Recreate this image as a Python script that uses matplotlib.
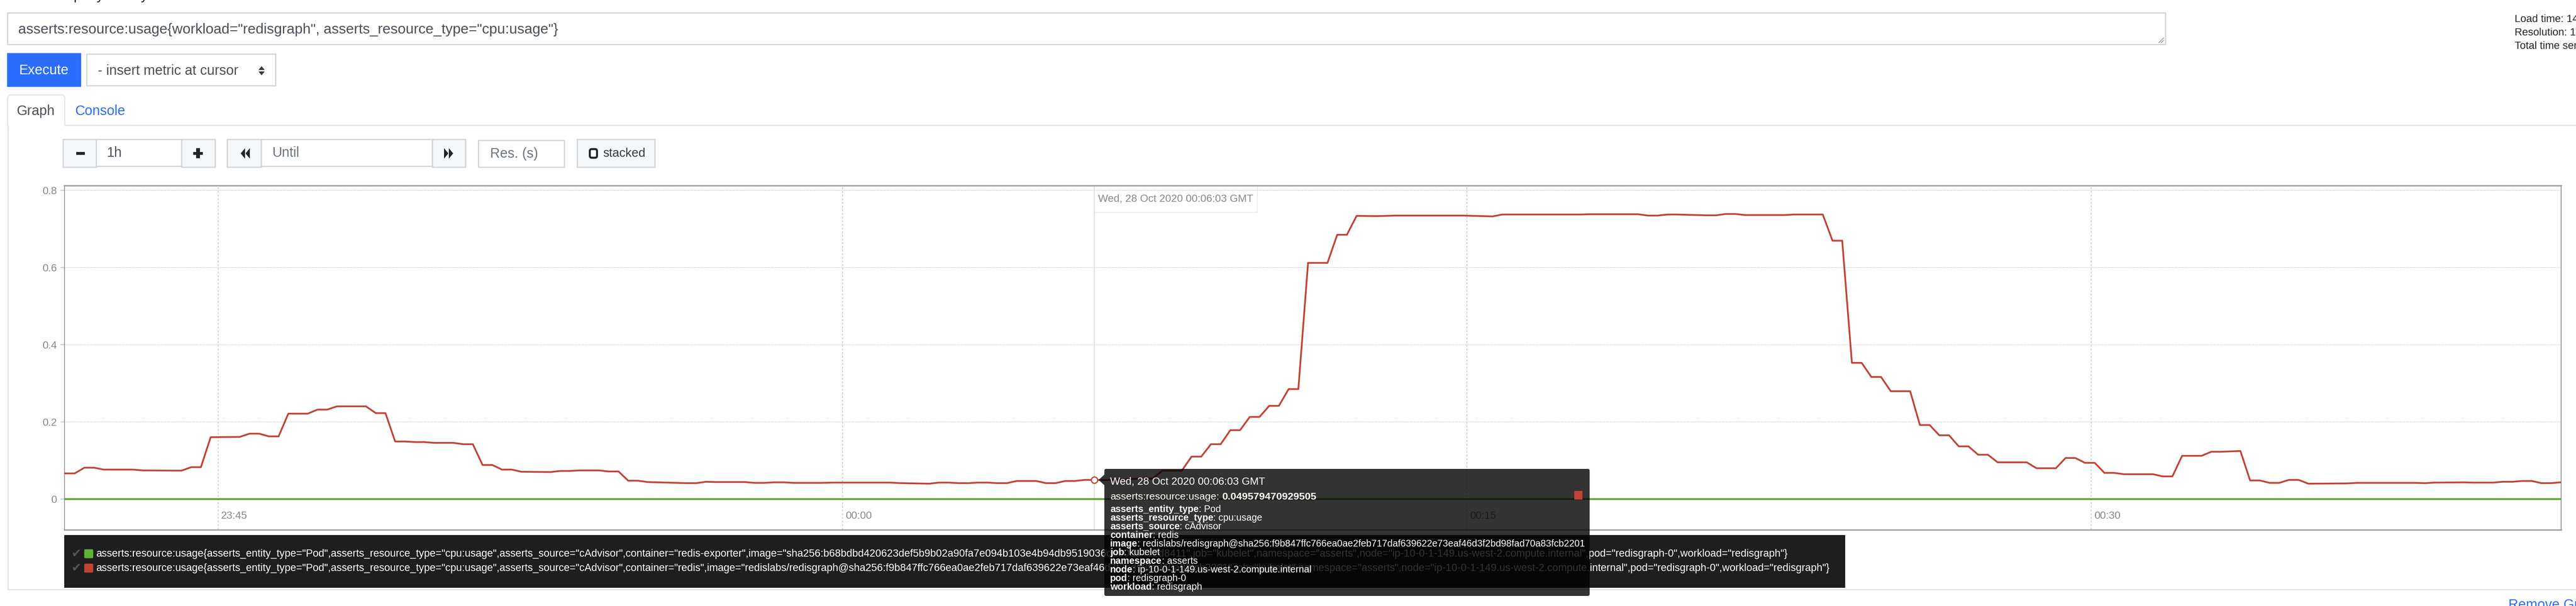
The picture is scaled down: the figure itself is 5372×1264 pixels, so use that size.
#!/usr/bin/env python
"""Prometheus graph page: cpu usage of the redisgraph workload, with hover tooltip."""
import matplotlib
matplotlib.use("Agg")
import matplotlib.pyplot as plt
from matplotlib.patches import Rectangle, FancyBboxPatch, Polygon
from matplotlib.transforms import ScaledTranslation

plt.rcParams["font.family"] = ["Liberation Sans", "DejaVu Sans"]

W, H = 5372, 1264
STEP_MIN = 14 / 60          # 14s resolution
START_MIN = -18.683         # 23:41:19, minutes relative to 00:00

# sample number (14s apart) and value at each corner of the red series
red_sample = [0, 1, 2, 3, 4, 7, 8, 12, 13, 14, 15, 18, 19, 20, 21, 22, 23, 25, 26, 27,
              28, 31, 32, 33, 34, 35, 36, 37, 38, 40, 41, 42, 43, 44, 45, 46, 47, 50, 51, 52,
              53, 55, 56, 57, 58, 59, 60, 64, 65, 66, 67, 70, 71, 72, 73, 74, 75, 78, 79, 85,
              86, 89, 90, 91, 92, 93, 94, 95, 96, 97, 98, 100, 101, 102, 103, 104, 105, 106, 107, 111,
              112, 113, 115, 116, 117, 118, 119, 120, 121, 122, 123, 124, 125, 126, 127, 128, 130, 131, 132, 133,
              135, 137, 144, 147, 148, 156, 157, 162, 163, 164, 165, 166, 169, 170, 171, 172, 173, 177, 178, 181,
              182, 183, 184, 185, 186, 187, 188, 190, 191, 192, 193, 194, 195, 196, 197, 198, 199, 202, 203, 205,
              206, 207, 208, 209, 210, 211, 212, 215, 216, 217, 218, 220, 221, 222, 224, 225, 226, 227, 228, 229,
              230, 231, 235, 236, 242, 243, 244, 247, 248, 250, 251, 252, 253, 254, 255, 256, 257]
red_value = [0.0665, 0.0665, 0.0813, 0.0813, 0.0764, 0.0764, 0.0743, 0.0736, 0.0827, 0.0827,
             0.1604, 0.1611, 0.1695, 0.1695, 0.1625, 0.1625, 0.2214, 0.2214, 0.2319, 0.2319,
             0.2403, 0.2403, 0.2228, 0.2228, 0.1492, 0.1492, 0.1478, 0.1478, 0.1457, 0.1457,
             0.1422, 0.1422, 0.0883, 0.0883, 0.0764, 0.0764, 0.0708, 0.0700, 0.0729, 0.0729,
             0.0743, 0.0743, 0.0715, 0.0715, 0.0476, 0.0476, 0.0441, 0.0413, 0.0413, 0.0448,
             0.0441, 0.0441, 0.0420, 0.0420, 0.0434, 0.0434, 0.0420, 0.0420, 0.0427, 0.0427,
             0.0413, 0.0399, 0.0427, 0.0427, 0.0413, 0.0413, 0.0427, 0.0427, 0.0413, 0.0413,
             0.0469, 0.0469, 0.0413, 0.0413, 0.0469, 0.0469, 0.0497, 0.0496, 0.0490, 0.0532,
             0.0532, 0.0736, 0.0736, 0.1100, 0.1100, 0.1422, 0.1422, 0.1786, 0.1786, 0.2130,
             0.2130, 0.2417, 0.2417, 0.2851, 0.2851, 0.6122, 0.6122, 0.6851, 0.6851, 0.7341,
             0.7334, 0.7348, 0.7348, 0.7327, 0.7376, 0.7376, 0.7383, 0.7383, 0.7348, 0.7348,
             0.7376, 0.7376, 0.7355, 0.7355, 0.7390, 0.7390, 0.7362, 0.7362, 0.7376, 0.7376,
             0.6697, 0.6697, 0.3531, 0.3531, 0.3166, 0.3166, 0.2795, 0.2795, 0.1919, 0.1919,
             0.1653, 0.1653, 0.1366, 0.1366, 0.1149, 0.1149, 0.0953, 0.0953, 0.0799, 0.0799,
             0.1065, 0.1065, 0.0939, 0.0939, 0.0679, 0.0679, 0.0644, 0.0644, 0.0588, 0.0588,
             0.1121, 0.1121, 0.1226, 0.1226, 0.1247, 0.0483, 0.0483, 0.0420, 0.0420, 0.0497,
             0.0497, 0.0399, 0.0406, 0.0420, 0.0420, 0.0413, 0.0427, 0.0434, 0.0427, 0.0427,
             0.0448, 0.0448, 0.0469, 0.0469, 0.0413, 0.0413, 0.0434]

green_sample = [0, 257]
green_value = [0.0005, 0.0005]

y_ticks = [0, 0.2, 0.4, 0.6, 0.8]
y_labels = ["0", "0.2", "0.4", "0.6", "0.8"]
x_ticks = [-15, 0, 15, 30]
x_labels = ["23:45", "00:00", "00:15", "00:30"]

hover_min = 6.05
hover_value = 0.049579470929505

query = 'asserts:resource:usage{workload="redisgraph", asserts_resource_type="cpu:usage"}'
legend_rows = [
    'asserts:resource:usage{asserts_entity_type="Pod",asserts_resource_type="cpu:usage",'
    'asserts_source="cAdvisor",container="redis-exporter",'
    'image="sha256:b68bdbd420623def5b9b02a90fa7e094b103e4b94db9519036da5006412d8411",'
    'job="kubelet",namespace="asserts",node="ip-10-0-1-149.us-west-2.compute.internal",'
    'pod="redisgraph-0",workload="redisgraph"}',
    'asserts:resource:usage{asserts_entity_type="Pod",asserts_resource_type="cpu:usage",'
    'asserts_source="cAdvisor",container="redis",'
    'image="redislabs/redisgraph@sha256:f9b847ffc766ea0ae2feb717daf639622e73eaf46d3f2bd98fad70a83fcb2201",'
    'job="kubelet",namespace="asserts",node="ip-10-0-1-149.us-west-2.compute.internal",'
    'pod="redisgraph-0",workload="redisgraph"}',
]
tip_labels = ["asserts_entity_type", "asserts_resource_type", "asserts_source", "container",
              "image", "job", "namespace", "node", "pod", "workload"]
tip_values = ["Pod", "cpu:usage", "cAdvisor", "redis",
              "redislabs/redisgraph@sha256:f9b847ffc766ea0ae2feb717daf639622e73eaf46d3f2bd98fad70a83fcb2201",
              "kubelet", "asserts", "ip-10-0-1-149.us-west-2.compute.internal",
              "redisgraph-0", "redisgraph"]

BLUE = "#2a6dff"
RED = "#c24333"
GREEN = "#5aa02c"
BORDER = "#ced4da"
BTN = "#f6f7f9"

fig = plt.figure(figsize=(W / 100, H / 100), dpi=100, facecolor="white")


def px_axes(zorder):
    a = fig.add_axes([0, 0, 1, 1], zorder=zorder)
    a.set_xlim(0, W)
    a.set_ylim(H, 0)
    a.axis("off")
    a.patch.set_alpha(0)
    return a


page = px_axes(0)
top = px_axes(2)


def box(ax, x0, y0, x1, y1, fc="white", ec=BORDER, lw=2.5, **kw):
    ax.add_patch(Rectangle((x0, y0), x1 - x0, y1 - y0, fc=fc, ec=ec, lw=lw * 0.72, **kw))


def txt(ax, x, y, s, size=20.6, color="#212529", ha="left", va="center", **kw):
    return ax.text(x, y, s, fontsize=size, color=color, ha=ha, va=va, **kw)


# page chrome
txt(page, 47, -1, "Enable query history", va="baseline")
box(page, 16, 27, 4516, 93)
txt(page, 38, 62, query, color="#495057", size=21.5)
page.plot([4502, 4512], [89, 79], color="#888", lw=1)
page.plot([4507, 4512], [89, 84], color="#888", lw=1)
box(page, 16, 112, 168, 180, fc=BLUE, ec=BLUE)
txt(page, 92, 147, "Execute", color="white", ha="center")
box(page, 181, 113, 575, 179)
txt(page, 204, 148, "- insert metric at cursor", color="#495057")
page.add_patch(Polygon([(539, 146), (552, 146), (545.5, 138)], fc="#343a40"))
page.add_patch(Polygon([(539, 149), (552, 149), (545.5, 157)], fc="#343a40"))

for n, y in (("Load time: 14", 41), ("Resolution: 14", 69), ("Total time ser", 97)):
    txt(page, 5244, y, n, size=15.8)

# tabs and panel
page.plot([16, 16, 20, 131, 135, 135], [262, 202, 198, 198, 202, 261], color="#dee2e6", lw=1.5)
page.plot([135, W], [261, 261], color="#dee2e6", lw=1.8)
page.plot([17, 17], [262, 1230], color="#dddddd", lw=1.5)
page.plot([17, W], [1230, 1230], color="#dddddd", lw=1.5)
txt(page, 34, 232, "Graph", color="#495057")
txt(page, 156, 232, "Console", color=BLUE)
txt(page, 5231, 1248, "Remove Gr", color=BLUE, va="top")

# range controls
box(page, 132, 291, 201, 349, fc=BTN)
box(page, 201, 291, 379, 347)
box(page, 379, 291, 449, 349, fc=BTN)
page.add_patch(Rectangle((159, 317), 18, 6, fc="#212529"))
txt(page, 223, 319, "1h", color="#495057")
page.add_patch(Rectangle((403, 317), 20, 6, fc="#212529"))
page.add_patch(Rectangle((409, 309), 8, 21, fc="#212529"))
box(page, 474, 291, 545, 349, fc=BTN)
box(page, 545, 291, 902, 347)
box(page, 902, 291, 971, 349, fc=BTN)
txt(page, 568, 319, "Until", color="#6c757d")
for dx in (0, 10):
    page.add_patch(Polygon([(502 + dx, 320), (511 + dx, 309), (511 + dx, 331)], fc="#212529"))
    page.add_patch(Polygon([(926 + dx, 309), (935 + dx, 320), (926 + dx, 331)], fc="#212529"))
box(page, 998, 293, 1177, 349)
txt(page, 1022, 321, "Res. (s)", color="#6c757d")
box(page, 1204, 291, 1366, 349, fc=BTN)
page.add_patch(FancyBboxPatch((1230, 311), 15, 18, boxstyle="round,pad=0,rounding_size=4",
                              fc="white", ec="#212529", lw=3))
txt(page, 1257, 320, "stacked", color="#343a40", size=18.5)

# legend block
box(page, 134, 1116, 3848, 1226, fc="#1e1e1e", ec="#1e1e1e", lw=0)
for s, c, y in zip(legend_rows, ("#5fb233", RED), (1155, 1185)):
    txt(page, 159, y, "\u2714", color="#555555", ha="center", size=18, family="DejaVu Sans")
    page.add_patch(FancyBboxPatch((176, y - 9), 18, 18, boxstyle="round,pad=0,rounding_size=2",
                                  fc=c, ec=c, lw=0.5))
    txt(page, 200, y, s, color="white", size=15.55)

# the graph itself
L, R, T, B = 134, 5341, 387, 1105
ax = fig.add_axes([L / W, 1 - B / H, (R - L) / W, (B - T) / H], zorder=1)
ax.patch.set_alpha(0)
ax.set_xlim(-18.70, 41.29)
ax.set_ylim(-0.0796, 0.8127)
for side in ("top", "bottom"):
    ax.spines[side].set_color("#999999")
    ax.spines[side].set_linewidth(1.9)
ax.spines["right"].set_color("#999999")
ax.spines["right"].set_linewidth(1.4)
ax.spines["left"].set_color("#777777")
ax.spines["left"].set_linewidth(1.0)

ax.set_yticks(y_ticks)
ax.set_yticklabels(y_labels)
ax.tick_params(axis="y", length=6, width=1.5, color="#cccccc", labelsize=15.8,
               labelcolor="#888888", pad=5)
ax.set_xticks(x_ticks)
ax.set_xticklabels(x_labels)
ax.tick_params(axis="x", length=0, labelsize=15.8, labelcolor="#888888", pad=-28)
shift = ScaledTranslation(6 / 100, 0, fig.dpi_scale_trans)
for lab in ax.get_xticklabels():
    lab.set_ha("left")
    lab.set_transform(lab.get_transform() + shift)
ax.grid(True, axis="y", color="#c8c8c8", lw=1.1, ls=(0, (1, 1)))
ax.grid(True, axis="x", color="#c0c0c0", lw=1.1, ls=(0, (2.5, 2.5)))
ax.set_axisbelow(True)

ax.axvline(hover_min, color="#dddddd", lw=1.2, zorder=1)
ax.plot([START_MIN + n * STEP_MIN for n in green_sample], green_value, color=GREEN, lw=2.6,
        solid_joinstyle="round", zorder=3)
ax.plot([START_MIN + n * STEP_MIN for n in red_sample], red_value, color=RED, lw=2.6,
        solid_joinstyle="round", zorder=3)
ax.plot([hover_min], [hover_value], marker="o", ms=9.5, mfc="white", mec=RED, mew=1.8, zorder=4)

# time flag at the top of the hover line
box(page, 2282, 387, 2622, 443, fc="white", ec="#eeeeee", lw=2)
txt(page, 2452, 416, "Wed, 28 Oct 2020 00:06:03 GMT", color="#888888", ha="center", size=15.8)

# tooltip, drawn over chart and legend
top.add_patch(FancyBboxPatch((2303, 978), 1012, 265, boxstyle="round,pad=0,rounding_size=4",
                             fc="black", ec="none", alpha=0.8))
top.add_patch(Polygon([(2303, 990), (2291, 1001), (2303, 1012)], fc="black", ec="none", alpha=0.8))
top.add_patch(Rectangle((3283, 1024), 17, 18, fc=RED, ec="none"))

renderer = fig.canvas.get_renderer()
txt(top, 2315, 1006, "Wed, 28 Oct 2020 00:06:03 GMT", color="white", size=15.8)
t = txt(top, 2315, 1037, "asserts:resource:usage:", color="white", size=15.4)
txt(top, 2315 + t.get_window_extent(renderer).width + 6, 1037, "0.049579470929505",
    color="white", size=15.4, fontweight="bold")
for i, (a, b) in enumerate(zip(tip_labels, tip_values)):
    y = 1062 + i * 18.05
    t = txt(top, 2315, y, a, color="white", size=14.2, fontweight="bold")
    txt(top, 2315 + t.get_window_extent(renderer).width, y, ": " + b, color="white", size=14.2)

fig.savefig("out.png", dpi=100)
